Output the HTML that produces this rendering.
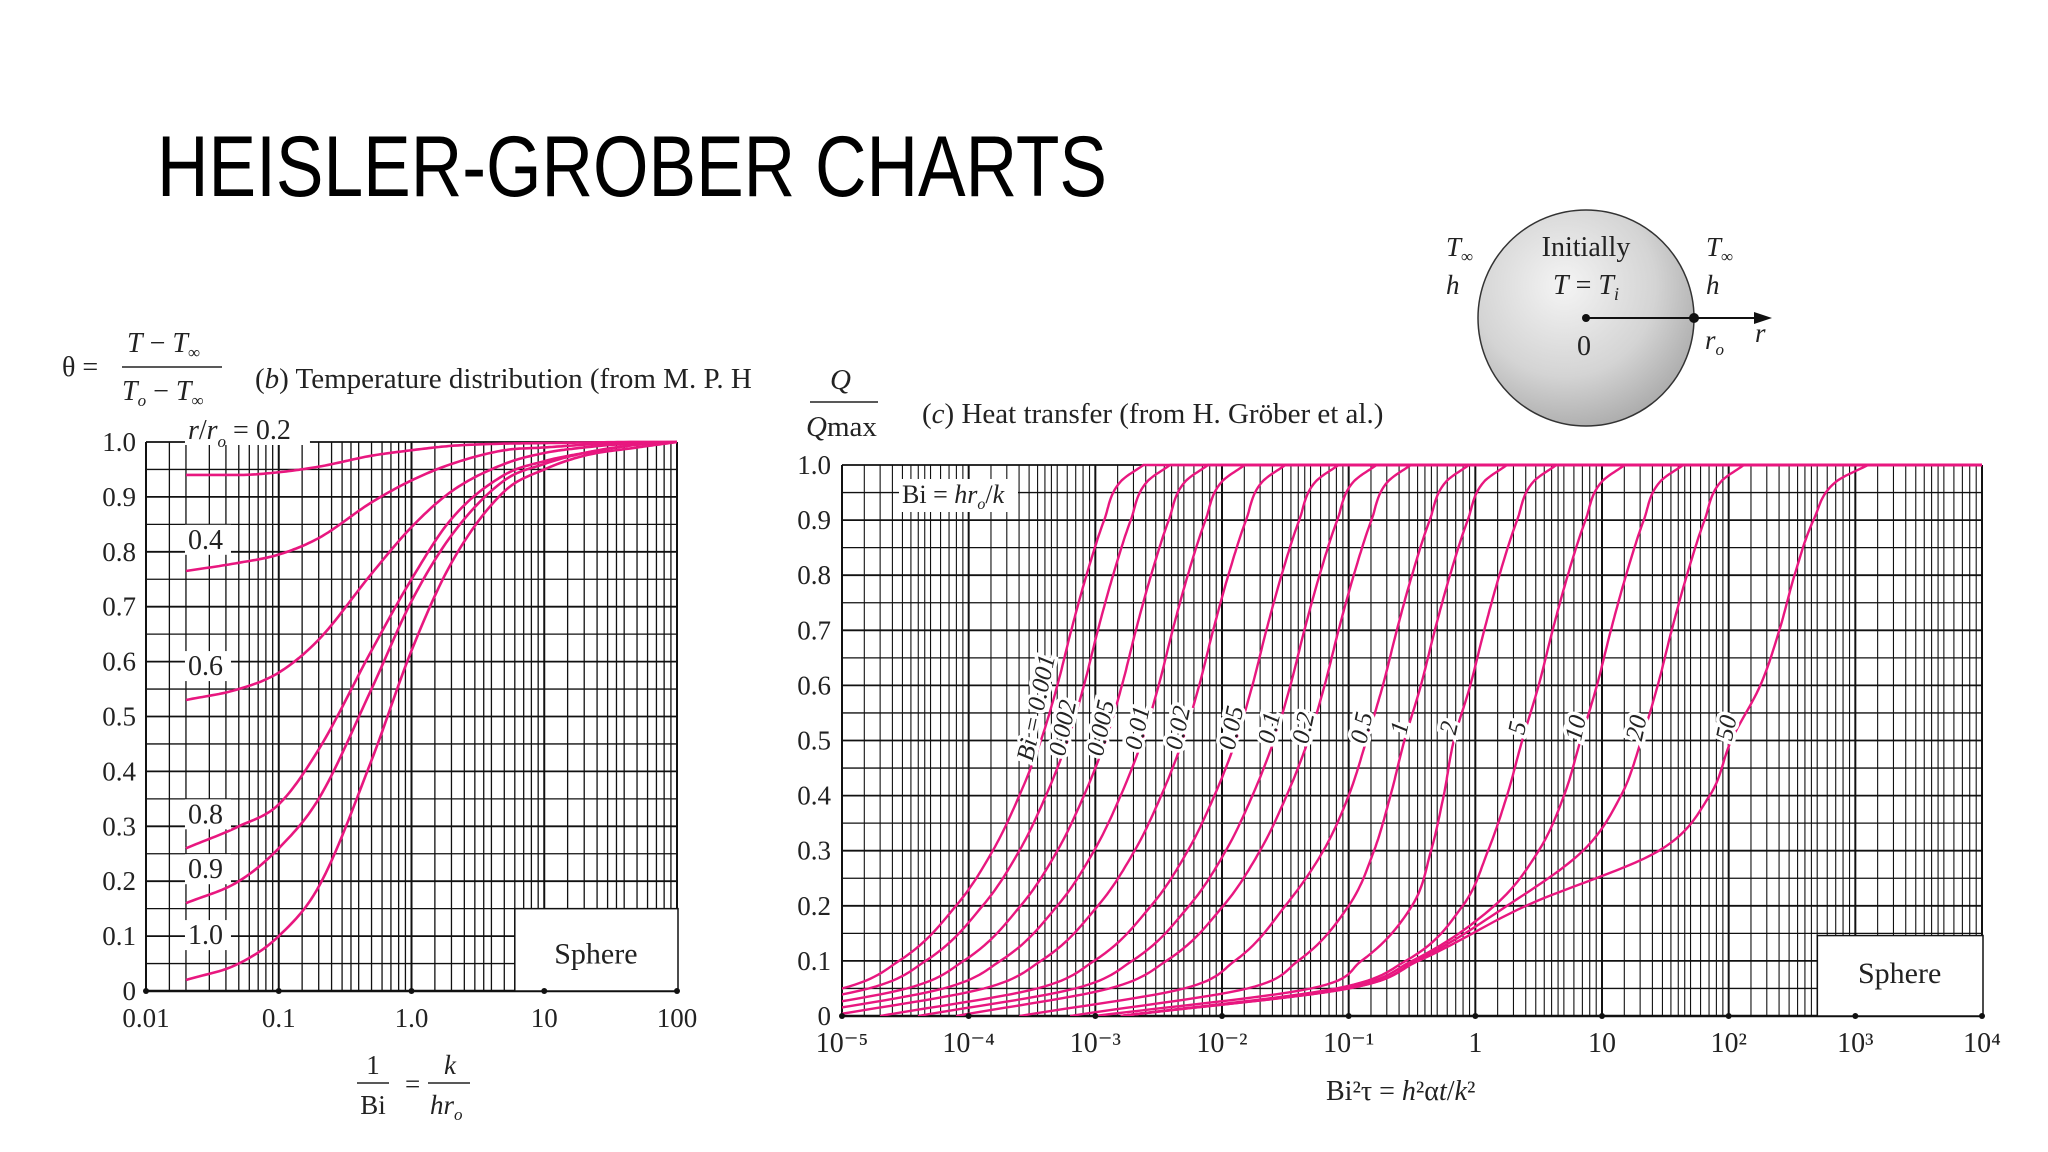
<!DOCTYPE html>
<html><head><meta charset="utf-8">
<style>
html,body{margin:0;padding:0;background:#fff;}
svg{display:block;}
.s{font-family:"Liberation Serif",serif;fill:#222;}
</style></head>
<body>
<svg id="root" width="2048" height="1152" viewBox="0 0 2048 1152" xmlns="http://www.w3.org/2000/svg">
<defs>
<radialGradient id="sg" cx="0.4" cy="0.35" r="0.7"><stop offset="0" stop-color="#f4f4f4"/><stop offset="0.6" stop-color="#d4d4d4"/><stop offset="1" stop-color="#a9a9a9"/></radialGradient>
<clipPath id="clipL"><rect x="146" y="430" width="531" height="561"/></clipPath>
<clipPath id="clipR"><rect x="842" y="455" width="1140" height="561"/></clipPath>
</defs>
<text x="157" y="196" font-family="Liberation Sans, sans-serif" font-size="86" fill="#000" textLength="950" lengthAdjust="spacingAndGlyphs">HEISLER-GROBER CHARTS</text>

<g>
<text class="s" x="62" y="376" font-size="28">θ =</text>
<text class="s" x="127" y="352" font-size="28"><tspan font-style="italic">T</tspan> − <tspan font-style="italic">T</tspan><tspan font-size="17" dy="6">∞</tspan></text>
<line x1="122" y1="367" x2="222" y2="367" stroke="#222" stroke-width="1.5"/>
<text class="s" x="122" y="400" font-size="28"><tspan font-style="italic">T</tspan><tspan font-size="17" dy="6" font-style="italic">o</tspan><tspan dy="-6"> − </tspan><tspan font-style="italic">T</tspan><tspan font-size="17" dy="6">∞</tspan></text>
<text class="s" x="255" y="388" font-size="29">(<tspan font-style="italic">b</tspan>) Temperature distribution (from M. P. H</text>
</g>
<g>
<text class="s" x="830" y="389" font-size="29" font-style="italic">Q</text>
<line x1="810" y1="402" x2="878" y2="402" stroke="#222" stroke-width="1.5"/>
<text class="s" x="806" y="436" font-size="29"><tspan font-style="italic">Q</tspan>max</text>
<text class="s" x="922" y="423" font-size="29">(<tspan font-style="italic">c</tspan>) Heat transfer (from H. Gröber et al.)</text>
</g>

<g>
<circle cx="1586" cy="318" r="108" fill="url(#sg)" stroke="#333" stroke-width="1.5"/>
<text class="s" x="1586" y="256" font-size="28" text-anchor="middle">Initially</text>
<text class="s" x="1586" y="294" font-size="28" text-anchor="middle"><tspan font-style="italic">T</tspan> = <tspan font-style="italic">T</tspan><tspan font-size="18" dy="6" font-style="italic">i</tspan></text>
<text class="s" x="1584" y="355" font-size="28" text-anchor="middle">0</text>
<circle cx="1586" cy="318" r="4" fill="#111"/>
<line x1="1586" y1="318" x2="1760" y2="318" stroke="#111" stroke-width="2"/>
<polygon points="1772,318 1754,312 1754,324" fill="#111"/>
<circle cx="1694" cy="318" r="5" fill="#111"/>
<text class="s" x="1705" y="349" font-size="27" font-style="italic">r<tspan font-size="17" dy="6">o</tspan></text>
<text class="s" x="1755" y="342" font-size="27" font-style="italic">r</text>
<text class="s" x="1446" y="256" font-size="27" font-style="italic">T<tspan font-size="17" dy="6" font-style="normal">∞</tspan></text>
<text class="s" x="1446" y="294" font-size="27" font-style="italic">h</text>
<text class="s" x="1706" y="256" font-size="27" font-style="italic">T<tspan font-size="17" dy="6" font-style="normal">∞</tspan></text>
<text class="s" x="1706" y="294" font-size="27" font-style="italic">h</text>
</g>

<g id="leftG"></g>
<g id="rightG"></g>

<g>
<text class="s" x="373" y="1074" font-size="27" text-anchor="middle">1</text>
<line x1="357" y1="1083" x2="389" y2="1083" stroke="#222" stroke-width="1.5"/>
<text class="s" x="373" y="1114" font-size="27" text-anchor="middle">Bi</text>
<text class="s" x="405" y="1093" font-size="27">=</text>
<text class="s" x="450" y="1074" font-size="27" text-anchor="middle" font-style="italic">k</text>
<line x1="428" y1="1083" x2="470" y2="1083" stroke="#222" stroke-width="1.5"/>
<text class="s" x="430" y="1114" font-size="27" font-style="italic">hr<tspan font-size="17" dy="6">o</tspan></text>
</g>
<text class="s" x="1326" y="1100" font-size="28">Bi²τ = <tspan font-style="italic">h</tspan>²α<tspan font-style="italic">t</tspan>/<tspan font-style="italic">k</tspan>²</text>
</svg>
<script>
// ---------- Left chart data ----------
const leftX = [0.02,0.05,0.1,0.2,0.5,1,2,5,10,20,50,100];
const leftSeriesNames = ["0.2","0.4","0.6","0.8","0.9","1.0"];
const left_r02 = [0.94,0.94,0.945,0.955,0.975,0.985,0.993,0.997,0.998,0.999,1,1];
const left_r04 = [0.765,0.78,0.795,0.825,0.89,0.93,0.96,0.985,0.99,0.995,1,1];
const left_r06 = [0.53,0.55,0.58,0.64,0.76,0.845,0.91,0.96,0.98,0.99,0.998,1];
const left_r08 = [0.26,0.30,0.34,0.44,0.62,0.75,0.86,0.94,0.965,0.98,0.995,1];
const left_r09 = [0.16,0.20,0.26,0.35,0.55,0.71,0.83,0.93,0.96,0.98,0.995,1];
const left_r10 = [0.02,0.05,0.10,0.19,0.42,0.62,0.78,0.91,0.95,0.975,0.99,1];
const leftLabelY = [1.0,0.8,0.57,0.30,0.20,0.08];
const leftXTicks = ["0.01","0.1","1.0","10","100"];
const leftYTicks = ["0","0.1","0.2","0.3","0.4","0.5","0.6","0.7","0.8","0.9","1.0"];

// ---------- Right chart data ----------
const rightYLevels = [0.0,0.05,0.1,0.2,0.3,0.4,0.5,0.6,0.7,0.8,0.9,0.97,1.0];
const rightBi = ["0.001","0.002","0.005","0.01","0.02","0.05","0.1","0.2","0.5","1","2","5","10","20","50"];
// log10(Bi²τ) at each level of rightYLevels
const bi_0001 = [-6.2,-5.0,-4.55,-4.10,-3.81,-3.60,-3.43,-3.30,-3.19,-3.07,-2.93,-2.80,-2.62];
const bi_0002 = [-6.0,-4.79,-4.34,-3.89,-3.60,-3.39,-3.22,-3.09,-2.98,-2.86,-2.72,-2.59,-2.41];
const bi_0005 = [-5.7,-4.49,-4.04,-3.59,-3.30,-3.09,-2.92,-2.79,-2.68,-2.56,-2.42,-2.29,-2.11];
const bi_001 = [-5.4,-4.20,-3.75,-3.30,-3.01,-2.80,-2.63,-2.50,-2.39,-2.27,-2.13,-2.00,-1.82];
const bi_002 = [-5.1,-3.88,-3.43,-2.98,-2.69,-2.48,-2.31,-2.18,-2.07,-1.95,-1.81,-1.68,-1.50];
const bi_005 = [-4.7,-3.46,-3.01,-2.56,-2.27,-2.06,-1.89,-1.76,-1.65,-1.53,-1.39,-1.26,-1.08];
const bi_01 = [-4.4,-3.16,-2.71,-2.26,-1.97,-1.76,-1.59,-1.46,-1.35,-1.23,-1.09,-0.96,-0.78];
const bi_02 = [-4.1,-2.89,-2.44,-1.99,-1.70,-1.49,-1.32,-1.19,-1.08,-0.96,-0.82,-0.69,-0.51];
const bi_05 = [-3.6,-2.3,-1.9,-1.5,-1.2,-1.0,-0.86,-0.73,-0.62,-0.50,-0.36,-0.23,-0.05];
const bi_1 = [-3.2,-1.8,-1.4,-1.0,-0.8,-0.67,-0.56,-0.43,-0.32,-0.20,-0.06,0.07,0.25];
const bi_2 = [-3.0,-1.3,-0.9,-0.5,-0.35,-0.25,-0.17,-0.04,0.07,0.19,0.33,0.46,0.64];
const bi_5 = [-2.8,-1.1,-0.55,-0.1,0.1,0.25,0.37,0.50,0.61,0.73,0.87,1.00,1.18];
const bi_10 = [-2.8,-1.05,-0.5,0.15,0.5,0.7,0.83,0.96,1.07,1.19,1.33,1.46,1.64];
const bi_20 = [-2.8,-1.0,-0.47,0.25,0.85,1.15,1.31,1.44,1.55,1.67,1.81,1.94,2.12];
const bi_50 = [-2.8,-1.0,-0.45,0.4,1.45,1.85,2.02,2.25,2.40,2.52,2.67,2.85,3.10];
const rightXTicks = ["10⁻⁵","10⁻⁴","10⁻³","10⁻²","10⁻¹","1","10","10²","10³","10⁴"];
const rightYTicks = ["0","0.1","0.2","0.3","0.4","0.5","0.6","0.7","0.8","0.9","1.0"];

const NS = "http://www.w3.org/2000/svg";
function mk(tag, attrs, parent){const e=document.createElementNS(NS,tag);for(const k in attrs)e.setAttribute(k,attrs[k]);parent.appendChild(e);return e;}
function monotone(ts, fs, steps){
  const n=ts.length, d=[], m=new Array(n);
  for(let i=0;i<n-1;i++) d.push((fs[i+1]-fs[i])/(ts[i+1]-ts[i]));
  m[0]=d[0]; m[n-1]=d[n-2];
  for(let i=1;i<n-1;i++){ m[i]=(d[i-1]*d[i]<=0)?0:(d[i-1]+d[i])/2; }
  for(let i=0;i<n-1;i++){
    if(d[i]===0){m[i]=0;m[i+1]=0;continue;}
    const a=m[i]/d[i], b=m[i+1]/d[i], h=a*a+b*b;
    if(h>9){const t=3/Math.sqrt(h);m[i]=t*a*d[i];m[i+1]=t*b*d[i];}
  }
  const out=[];
  for(let i=0;i<n-1;i++){
    const h=ts[i+1]-ts[i];
    for(let k=0;k<steps;k++){
      const s=k/steps, s2=s*s, s3=s2*s;
      const v=(2*s3-3*s2+1)*fs[i]+(s3-2*s2+s)*h*m[i]+(-2*s3+3*s2)*fs[i+1]+(s3-s2)*h*m[i+1];
      out.push([ts[i]+s*h, v]);
    }
  }
  out.push([ts[n-1], fs[n-1]]);
  return out;
}
const PINK="#e8177f";

// ---------- Left chart ----------
(function(){
  const g=document.getElementById('leftG');
  const X0=146,X1=677,Y0=991,Y1=442;
  const xs=v=>X0+(Math.log10(v)+2)/4*(X1-X0);
  const ys=v=>Y0-v*(Y0-Y1);
  const grid=mk('g',{},g);
  
  
  for(let i=0;i<=20;i++){const y=ys(i*0.05);mk('line',{x1:X0,x2:X1,y1:y,y2:y,stroke:'#111','stroke-width':i%2?1.3:1.8},grid);}
  for(let d=-2;d<=1;d++){
    const ms=d===-2?[1,1.5,2,3,4,5,6,7,8,9]:[1,1.5,2,2.5,3,3.5,4,5,6,7,8,9];
    ms.forEach(m=>{const x=xs(m*Math.pow(10,d));mk('line',{x1:x,x2:x,y1:Y1,y2:Y0,stroke:'#111','stroke-width':m===1?2:1.3},grid);});
  }
  mk('line',{x1:X1,x2:X1,y1:Y1,y2:Y0,stroke:'#111','stroke-width':2},grid);
  mk('line',{x1:X0,x2:X1,y1:Y0,y2:Y0,stroke:'#111','stroke-width':2.5},grid);
  const sb=mk('rect',{x:xs(6),y:ys(0.15),width:X1-xs(6)+1,height:ys(0)-ys(0.15),fill:'#fff',stroke:'#111','stroke-width':1.5},g);
  
  
  const st=mk('text',{x:(xs(6)+X1)/2,y:ys(0.05),'font-size':30,'text-anchor':'middle',class:'s'},g);
  st.textContent="Sphere";
  
  
  const series=[left_r02,left_r04,left_r06,left_r08,left_r09,left_r10];
  const cg=mk('g',{'clip-path':'url(#clipL)'},g);
  const lx=leftX.map(v=>Math.log10(v));
  series.forEach((s,i)=>{
    const pts=monotone(lx,s,16).map(p=>[X0+(p[0]+2)/4*(X1-X0), ys(p[1])]);
    const d="M"+pts.map(p=>p[0].toFixed(1)+","+p[1].toFixed(1)).join(" L");
    const p=mk('path',{d:d,fill:'none',stroke:PINK,'stroke-width':2.6},cg);
    
    
  });
  leftSeriesNames.forEach((n,i)=>{
    const y=ys(leftLabelY[i]);
    const w=i===0?125:46;
    const r=mk('rect',{x:xs(0.02)-1,y:y-27,width:w,height:30,fill:'#fff'},g);
    
    
    const t=mk('text',{x:xs(0.02)+2,y:y-3,'font-size':28,class:'s'},g);
    if(i===0){t.innerHTML='<tspan font-style="italic">r</tspan>/<tspan font-style="italic">r</tspan><tspan font-size="17" dy="8" font-style="italic">o</tspan><tspan dy="-8"> = 0.2</tspan>';}
    else t.textContent=n;
    
    
  });
  leftYTicks.forEach((lab,i)=>{
    const t=mk('text',{x:136,y:ys(i*0.1)+9,'font-size':27,'text-anchor':'end',class:'s'},g);
    t.textContent=lab;
    
    
  });
  leftXTicks.forEach((lab,i)=>{
    const x=X0+i*(X1-X0)/4;
    mk('circle',{cx:x,cy:Y0,r:3,fill:'#111'},g);
    const t=mk('text',{x:x,y:1027,'font-size':27,'text-anchor':'middle',class:'s'},g);
    t.textContent=lab;
    
    
  });
})();

// ---------- Right chart ----------
(function(){
  const g=document.getElementById('rightG');
  const X0=842,X1=1982,Y0=1016,Y1=465;
  const xl=v=>X0+(v+5)/9*(X1-X0);
  const ys=v=>Y0-v*(Y0-Y1);
  const grid=mk('g',{},g);
  
  
  for(let i=0;i<=20;i++){const y=ys(i*0.05);mk('line',{x1:X0,x2:X1,y1:y,y2:y,stroke:'#111','stroke-width':i%2?1.3:1.8},grid);}
  for(let d=-5;d<=3;d++){
    [1,1.5,2,2.5,3,3.5,4,4.5,5,6,7,8,9].forEach(m=>{const x=xl(d+Math.log10(m));mk('line',{x1:x,x2:x,y1:Y1,y2:Y0,stroke:'#111','stroke-width':m===1?2:1.1},grid);});
  }
  mk('line',{x1:X1,x2:X1,y1:Y1,y2:Y0,stroke:'#111','stroke-width':2},grid);
  mk('line',{x1:X0,x2:X1,y1:Y0,y2:Y0,stroke:'#111','stroke-width':2.5},grid);
  const sb=mk('rect',{x:xl(2.7),y:ys(0.146),width:X1-xl(2.7)+1,height:ys(0)-ys(0.146),fill:'#fff',stroke:'#111','stroke-width':1.5},g);
  
  
  const st=mk('text',{x:(xl(2.7)+X1)/2,y:ys(0.06),'font-size':30,'text-anchor':'middle',class:'s'},g);
  st.textContent="Sphere";
  
  
  const bb=mk('rect',{x:899,y:479,width:119,height:33,fill:'#fff'},g);
  
  
  const bt=mk('text',{x:902,y:503,'font-size':26,class:'s'},g);
  bt.innerHTML='Bi = <tspan font-style="italic">hr</tspan><tspan font-size="16" dy="6" font-style="italic">o</tspan><tspan dy="-6">/</tspan><tspan font-style="italic">k</tspan>';
  
  
  const series=[bi_0001,bi_0002,bi_0005,bi_001,bi_002,bi_005,bi_01,bi_02,bi_05,bi_1,bi_2,bi_5,bi_10,bi_20,bi_50];
  const cg=mk('g',{'clip-path':'url(#clipR)'},g);
  series.forEach((s,i)=>{
    const pts=monotone(rightYLevels,s,14).map(p=>[xl(p[1]), ys(p[0])]);
    let d="M"+pts.map(p=>p[0].toFixed(1)+","+p[1].toFixed(1)).join(" L");
    d+=" L"+(X1+5)+","+ys(1).toFixed(1);
    const p=mk('path',{d:d,fill:'none',stroke:PINK,'stroke-width':2.4},cg);
    
    
  });
  series.forEach((s,i)=>{
    const cx=xl(s[6])-4, cy=ys(0.52);
    const lab=i===0?"Bi = 0.001":rightBi[i];
    const t=mk('text',{x:0,y:0,'font-size':25,'font-style':'italic',class:'s','text-anchor':'middle',transform:'translate('+(cx+7)+','+(cy+(i===0?-20:0))+') rotate(-78)'},g);
    t.textContent=lab;
    t.setAttribute('stroke','#fff');
    t.setAttribute('stroke-width','7');
    t.setAttribute('paint-order','stroke');
    
    
  });
  rightYTicks.forEach((lab,i)=>{
    const t=mk('text',{x:831,y:ys(i*0.1)+9,'font-size':27,'text-anchor':'end',class:'s'},g);
    t.textContent=lab;
    
    
  });
  rightXTicks.forEach((lab,i)=>{
    const x=X0+i*(X1-X0)/9;
    mk('circle',{cx:x,cy:Y0,r:3,fill:'#111'},g);
    const t=mk('text',{x:x,y:1052,'font-size':28,'text-anchor':'middle',class:'s'},g);
    t.textContent=lab;
    
    
  });
})();
</script>
</body></html>
